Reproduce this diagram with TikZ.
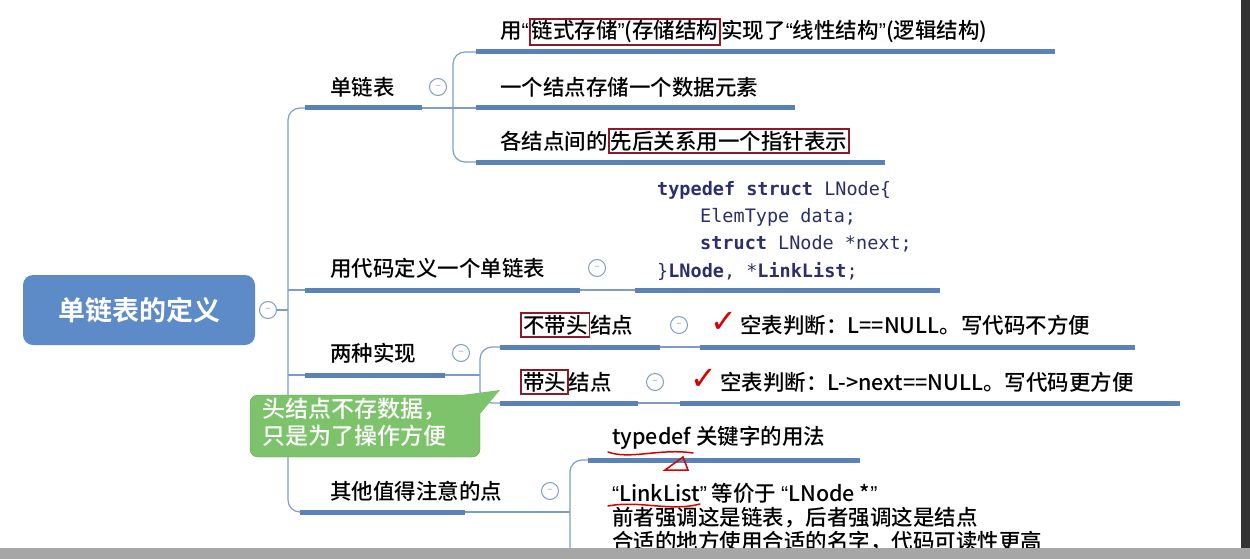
\documentclass[tikz,border=0pt]{standalone}
\usepackage{fontspec}
\setmainfont{Noto Sans CJK SC}[BoldFont={Noto Sans CJK SC Bold}]
\newfontfamily\cjkmed{Noto Sans CJK SC Medium}
\newfontfamily\latin{Liberation Sans}
\newfontfamily\symfont{DejaVu Sans}
\setmonofont{DejaVu Sans Mono}
\usetikzlibrary{calc,positioning}
\definecolor{barblue}{HTML}{5B82B8}
\definecolor{linkblue}{HTML}{7F9CC8}
\definecolor{boxred}{HTML}{8B1A2B}
\definecolor{rootblue}{HTML}{5C8BC7}
\definecolor{tipgreen}{HTML}{7DC36B}
\definecolor{codenavy}{HTML}{2B2F6B}
\newcommand{\rbox}[1]{{\setlength{\fboxrule}{1.8pt}\setlength{\fboxsep}{1pt}\fcolorbox{boxred}{white}{#1}}}
\newcommand{\oq}{{\latin “}}
\newcommand{\cq}{{\latin ”}}
\tikzset{
  txt/.style={anchor=west, inner sep=0pt, font=\cjkmed\fontsize{21.5}{23}\selectfont},
  bar/.style={barblue, line width=5pt},
  link/.style={linkblue, line width=1.2pt, rounded corners=12pt},
  minus/.style={circle, draw=linkblue, line width=1pt, minimum size=17pt, inner sep=0pt, font=\fontsize{10}{10}\selectfont, text=linkblue},
  code/.style={anchor=west, inner sep=0pt, font=\ttfamily\fontsize{18.5}{20}\selectfont, text=codenavy},
  pen/.style={red!85!black, line width=1.5pt, line cap=round}
}
\begin{document}
\begin{tikzpicture}[x=1pt,y=-1pt]
  \fill[white] (0,0) rectangle (1250,559);
  \useasboundingbox (0,0) rectangle (1250,559);
  % root
  \node[fill=rootblue, rounded corners=10pt, minimum width=232pt, minimum height=70pt, text=white, font=\fontsize{27}{30}\selectfont\bfseries] (root) at (139,310) {单链表的定义};
  \node[minus] (m0) at (268,310) {--};
  \draw[link] (m0.east) -- (288,310);
  \draw[link] (305,108) -- (288,108) -- (288,512) -- (305,512);
  \draw[link] (288,290) -- (305,290);
  \draw[link] (288,375) -- (305,375);
  % 单链表
  \node[txt] (sll) at (330,87) {单链表};
  \draw[bar] (305,108) -- (422,108);
  \node[minus] (m1) at (438,87) {--};
  \draw[link] (422,108) -- (453,108);
  \draw[link] (476,52) -- (453,52) -- (453,162) -- (476,162);
  \draw[link] (453,108) -- (476,108);
  \draw[bar] (476,52) -- (1055,52);
  \draw[bar] (476,108) -- (795,108);
  \draw[bar] (476,162) -- (885,162);
  \node[txt] (s1) at (500,32) {用\oq\rbox{链式存储\cq(存储结构}实现了\oq 线性结构\cq(逻辑结构)};
  \node[txt] (s2) at (500,87) {一个结点存储一个数据元素};
  \node[txt] (s3) at (500,141) {各结点间的\rbox{先后关系用一个指针表示}};
  % code
  \node[txt] (def) at (330,268) {用代码定义一个单链表};
  \draw[bar] (305,290) -- (580,290);
  \node[minus] (m2) at (597,268) {--};
  \draw[link] (580,290) -- (635,290);
  \draw[bar] (635,290) -- (940,290);
  \node[code] (c1) at (657,190) {\textbf{typedef struct} LNode\{};
  \node[code] (c2) at (700,217) {ElemType data;};
  \node[code] (c3) at (700,244) {\textbf{struct} LNode *next;};
  \node[code] (c4) at (657,271) {\}\textbf{LNode}, *\textbf{LinkList};};
  % two impl
  \node[txt] (two) at (330,353) {两种实现};
  \draw[bar] (305,375) -- (445,375);
  \node[minus] (m3) at (461,353) {--};
  \draw[link] (445,375) -- (480,375);
  \draw[link] (500,347) -- (480,347) -- (480,403) -- (500,403);
  \draw[bar] (500,347) -- (660,347);
  \draw[bar] (500,403) -- (638,403);
  \node[txt] (nohead) at (520,325) {\rbox{不带头}结点};
  \node[txt] (head) at (520,382) {\rbox{带头}结点};
  \node[minus] (m4) at (679,325) {--};
  \node[minus] (m5) at (655,382) {--};
  \draw[link] (660,347) -- (700,347);
  \draw[link] (638,403) -- (680,403);
  \draw[bar] (700,347) -- (1135,347);
  \draw[bar] (680,403) -- (1180,403);
  \node[txt, text=red!85!black, font=\symfont\bfseries\fontsize{32}{32}\selectfont] (ck1) at (710,322) {✓};
  \node[txt] (e1) at (740,325) {空表判断：L==NULL。写代码不方便};
  \node[txt, text=red!85!black, font=\symfont\bfseries\fontsize{32}{32}\selectfont] (ck2) at (690,379) {✓};
  \node[txt] (e2) at (720,382) {空表判断：L->next==NULL。写代码更方便};
  % tip
  \fill[tipgreen, draw=tipgreen!80!black, rounded corners=8pt] (250,395) -- (480,395) -- (480,457) -- (250,457) -- cycle;
  \fill[tipgreen] (455,396) -- (500,390) -- (475,420) -- cycle;
  \node[anchor=north west, inner sep=0pt, align=left, text=white, font=\cjkmed\fontsize{23}{27}\selectfont] (tip) at (262,398) {头结点不存数据，\\只是为了操作方便};
  % others
  \node[txt] (oth) at (330,491) {其他值得注意的点};
  \draw[bar] (300,512) -- (465,512);
  \node[minus] (m6) at (550,491) {--};
  \draw[link] (465,512) -- (570,512);
  \draw[link] (588,460) -- (570,460) -- (570,559);
  \draw[bar] (588,460) -- (860,460);
  \node[txt] (o1) at (612,438) {typedef 关键字的用法};
  \node[anchor=north west, inner sep=0pt, align=left, font=\cjkmed\fontsize{21.5}{24}\selectfont] (o2) at (612,483) {\oq LinkList\cq\ 等价于 \oq LNode *\cq\\前者强调这是链表，后者强调这是结点\\合适的地方使用合适的名字，代码可读性更高};
  \draw[pen] (608,452) .. controls (630,460) and (660,448) .. (693,453);
  \draw[pen] (665,470) -- (683,457) -- (688,470) -- cycle;
  \draw[pen] (608,506) .. controls (640,500) and (670,512) .. (700,504);
  % frame
  \fill[gray!70] (0,548) rectangle (1250,559);
  \fill[black!80] (1241,0) rectangle (1250,548);
\end{tikzpicture}
\end{document}
